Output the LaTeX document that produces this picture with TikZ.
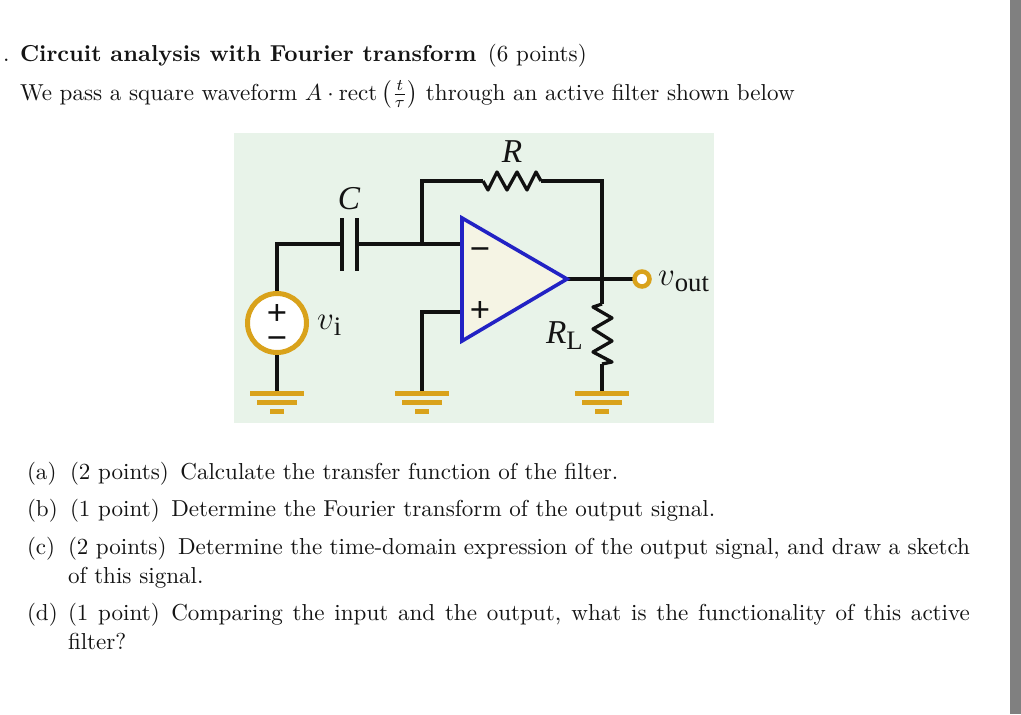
\documentclass[tikz,border=0pt]{standalone}
\usepackage{fontspec}
\newfontfamily\labfont{Liberation Serif}
\newfontfamily\signfont{Liberation Sans}
\newlength{\px}\setlength{\px}{0.75pt}
\definecolor{bgc}{HTML}{E8F3E9}
\definecolor{gold}{HTML}{D9A21B}
\definecolor{tri}{HTML}{F5F4E4}
\definecolor{blu}{HTML}{2222C4}
\definecolor{wire}{HTML}{111111}
\definecolor{bar}{HTML}{808080}
\newcommand{\jline}[1]{\hbox to 391pt{#1}}
\newcommand{\labsub}[1]{\raisebox{-6\px}{\fontsize{20}{20}\selectfont\labfont\upshape #1}}
\newcommand{\labv}{$\fontsize{27}{27}\selectfont v$}
\tikzset{
  txt/.style={anchor=base west,inner sep=0pt,outer sep=0pt,scale=1.73,font=\fontsize{10}{12}\selectfont,text=black!92},
  lab/.style={inner sep=0pt,outer sep=0pt,text=black!92,font=\fontsize{25}{27}\selectfont\labfont\itshape},
  sign/.style={anchor=base,inner sep=0pt,outer sep=0pt,text=wire,font=\fontsize{26}{26}\selectfont\signfont},
  w/.style={draw=wire,line width=3.3\px,line join=miter},
  gnd/.style={draw=gold,line width=5\px},
  zig/.style={draw=wire,line width=3.3\px,line join=round}
}
\begin{document}
\begin{tikzpicture}[x=1\px,y=-1\px]
\useasboundingbox (0,0) rectangle (1021,714);
\fill[white] (0,0) rectangle (1021,714);
\fill[bar] (1010,0) rectangle (1021,714);
\fill[bgc] (234,133) rectangle (714,423);
% text
\node[txt] (dot) at (3,61) {.};
\node[txt] (title) at (20,61) {\textbf{Circuit analysis with Fourier transform}\enspace(6 points)};
\node[txt] (intro) at (20,100) {We pass a square waveform $A\cdot\mathrm{rect}\,\bigl(\frac{t}{\tau}\bigr)$ through an active filter shown below};
\node[txt] (a1) at (27,479) {(a)};
\node[txt] (a2) at (70,479) {(2 points)\enspace Calculate the transfer function of the filter.};
\node[txt] (b1) at (27,516) {(b)};
\node[txt] (b2) at (70,516) {(1 point)\enspace Determine the Fourier transform of the output signal.};
\node[txt] (c1) at (27,554) {(c)};
\node[txt] (c2) at (68,554) {\jline{(2 points)\enspace Determine the time-domain expression of the output signal, and draw a sketch}};
\node[txt] (c3) at (68,583) {of this signal.};
\node[txt] (d1) at (27,620) {(d)};
\node[txt] (d2) at (68,620) {\jline{(1 point)\enspace Comparing the input and the output, what is the functionality of this active}};
\node[txt] (d3) at (68,649) {filter?};
% coordinates
\coordinate (srcTop) at (277,291);
\coordinate (srcBot) at (277,355);
\coordinate (cornerL) at (277,244);
\coordinate (capL) at (342,244);
\coordinate (capR) at (357,244);
\coordinate (junc) at (422,244);
\coordinate (minus) at (462,244);
\coordinate (plus) at (462,312);
\coordinate (plusC) at (422,312);
\coordinate (gnd1) at (277,392);
\coordinate (gnd2) at (422,392);
\coordinate (gnd3) at (602,392);
\coordinate (fbTL) at (422,181);
\coordinate (fbTR) at (602,181);
\coordinate (rL) at (483,181);
\coordinate (rR) at (541,181);
\coordinate (oTip) at (567,279);
\coordinate (oJ) at (602,279);
\coordinate (rlT) at (602,304);
\coordinate (rlB) at (602,364);
\coordinate (outT) at (642,279);
% wires
\draw[w] (srcTop) -- (cornerL) -- (capL);
\draw[w] (capR) -- (minus);
\draw[w] (junc) -- (fbTL) -- (rL);
\draw[w] (rR) -- (fbTR) -- (rlT);
\draw[w] (oTip) -- (outT);
\draw[w] (gnd2) -- (plusC) -- (plus);
\draw[w] (srcBot) -- (gnd1);
\draw[w] (rlB) -- (gnd3);
% capacitor
\draw[w] (342,218) -- (342,271);
\draw[w] (357,218) -- (357,271);
% feedback resistor
\draw[zig] (rL) -- (488,190) -- (497,172) -- (507,190) -- (517,172) -- (527,190) -- (536,172) -- (rR);
% load resistor
\draw[zig] (rlT) -- (593,307) -- (612,318) -- (593,329) -- (612,341) -- (593,352) -- (612,362) -- (rlB);
% op-amp
\draw[draw=blu,fill=tri,line width=3.6\px,line join=miter] (462,218) -- (567,279) -- (462,341) -- cycle;
\node[sign] (minusS) at (480,260) {−};
\node[sign] (plusS) at (480,321) {+};
% source
\node[circle,draw=gold,fill=white,line width=5\px,minimum size=59\px,inner sep=0pt,outer sep=0pt] (src) at (277,323) {};
\node[sign] (srcP) at (277,324) {+};
\node[sign] (srcM) at (277,349) {−};
% output
\node[circle,draw=gold,fill=white,line width=4.5\px,minimum size=15\px,inner sep=0pt,outer sep=0pt] (out) at (642,279) {};
% grounds
\foreach \n in {gnd1,gnd2,gnd3}{
  \draw[gnd] ([xshift=-27\px,yshift=-1\px]\n) -- ([xshift=27\px,yshift=-1\px]\n);
  \draw[gnd] ([xshift=-20\px,yshift=-10\px]\n) -- ([xshift=20\px,yshift=-10\px]\n);
  \draw[gnd] ([xshift=-7\px,yshift=-19\px]\n) -- ([xshift=7\px,yshift=-19\px]\n);
}
% labels
\node[lab,anchor=base] (lR) at (512,162) {R};
\node[lab,anchor=base] (lC) at (349,209) {C};
\node[lab,anchor=base west] (lRL) at (546,343) {R\labsub{L}};
\node[lab,anchor=base west] (lvi) at (317,329) {\labv\labsub{i}};
\node[lab,anchor=base west] (lvo) at (658,285) {\labv\labsub{out}};
\end{tikzpicture}
\end{document}
